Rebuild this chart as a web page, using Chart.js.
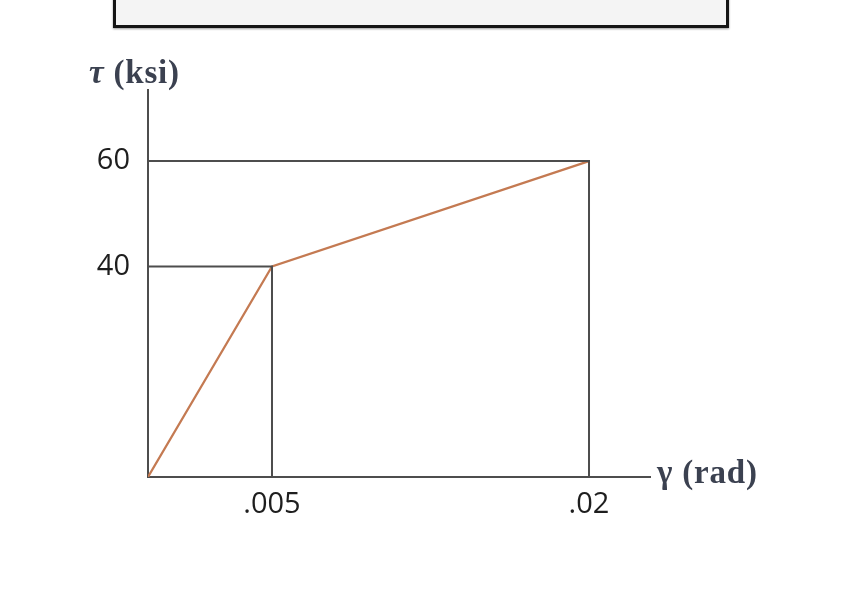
<!DOCTYPE html>
<html>
<head>
<meta charset="utf-8">
<script src="https://cdn.jsdelivr.net/npm/chart.js@4.4.1/dist/chart.umd.min.js"></script>
<style>
  html, body { margin: 0; padding: 0; background: #ffffff; overflow: hidden; }
  #wrap { position: relative; width: 862px; height: 592px; }
  #topbox { position: absolute; left: 113px; top: -12px; width: 610px; height: 34px;
            border: 3px solid #151515; background: #f4f4f4; box-shadow: 0 1px 2px #999; }
  .axtitle { position: absolute; font-family: "Liberation Serif", "Times New Roman", serif;
             font-weight: bold; font-size: 33px; letter-spacing: 0.8px; color: #3b4150;
             white-space: nowrap; line-height: 1; }
  #ytitle { left: 89px; top: 56px; }
  #xtitle { left: 657px; top: 456px; }
  canvas { position: absolute; left: 0; top: 0; }
</style>
</head>
<body>
<div id="wrap">
  <div id="topbox"></div>
  <canvas id="c" width="862" height="592"></canvas>
  <div id="ytitle" class="axtitle"><i>τ</i> (ksi)</div>
  <div id="xtitle" class="axtitle">γ (rad)</div>
</div>
<script>
// ---- data ----
const gammaValues = [0, 0.005, 0.02];      // shear strain (rad)
const tauValues   = [0, 40, 60];           // shear stress (ksi)
const xTickValues = [0.005, 0.02];
const xTickLabels = ['.005', '.02'];
const yTickValues = [40, 60];
const yTickLabels = ['40', '60'];

// schematic (not-to-scale) gamma axis break points
const axisBreakValues    = [0, 0.005, 0.02, 0.0229];
const axisBreakFractions = [0, 0.247, 0.8785, 1];

class PiecewiseScale extends Chart.LinearScale {
  getPixelForValue(value) {
    const v = axisBreakValues, f = axisBreakFractions;
    let i = 1;
    while (i < v.length - 1 && value > v[i]) i++;
    const t = (value - v[i - 1]) / (v[i] - v[i - 1]);
    return this.getPixelForDecimal(f[i - 1] + t * (f[i] - f[i - 1]));
  }
  getValueForPixel(pixel) {
    const d = this.getDecimalForPixel(pixel);
    const v = axisBreakValues, f = axisBreakFractions;
    let i = 1;
    while (i < f.length - 1 && d > f[i]) i++;
    const t = (d - f[i - 1]) / (f[i] - f[i - 1]);
    return v[i - 1] + t * (v[i] - v[i - 1]);
  }
}
PiecewiseScale.id = 'piecewise';
PiecewiseScale.defaults = Chart.LinearScale.defaults;
Chart.register(PiecewiseScale);

const curve = gammaValues.map((g, i) => ({ x: g, y: tauValues[i] }));
const guideSets = gammaValues.slice(1).map((g, k) => {
  const t = tauValues[k + 1];
  return {
    data: [{ x: 0, y: t }, { x: g, y: t }, { x: g, y: 0 }],
    borderColor: '#4d4d4d', borderWidth: 2, showLine: true,
    pointRadius: 0, fill: false, tension: 0
  };
});

const tickFont = { family: '"Open Sans", "Noto Sans", sans-serif', size: 29 };

new Chart(document.getElementById('c'), {
  type: 'scatter',
  data: {
    datasets: [
      ...guideSets,
      { data: curve, borderColor: '#c47a52', borderWidth: 2.2, showLine: true,
        pointRadius: 0, fill: false, tension: 0 }
    ]
  },
  options: {
    responsive: false,
    animation: false,
    events: [],
    layout: { padding: { left: 0, right: 212, top: 90, bottom: 0 } },
    plugins: { legend: { display: false }, tooltip: { enabled: false } },
    scales: {
      x: {
        type: 'piecewise',
        min: 0, max: 0.0229,
        grid: { display: false, drawTicks: false },
        border: { display: true, color: '#4d4d4d', width: 2 },
        afterBuildTicks: s => { s.ticks = xTickValues.map(v => ({ value: v })); },
        afterFit: s => { s.height = 115; },
        ticks: {
          autoSkip: false, maxRotation: 0, padding: 10,
          color: '#1e1e1e', font: tickFont,
          callback: (v, i) => xTickLabels[i]
        }
      },
      y: {
        type: 'linear',
        min: 0, max: 73.5,
        grid: { display: false, drawTicks: false },
        border: { display: true, color: '#4d4d4d', width: 2 },
        afterBuildTicks: s => { s.ticks = yTickValues.map(v => ({ value: v })); },
        afterFit: s => { s.width = 148; },
        ticks: {
          autoSkip: false, padding: 18,
          color: '#1e1e1e', font: tickFont,
          callback: (v, i) => yTickLabels[i]
        }
      }
    }
  }
});
</script>
</body>
</html>
